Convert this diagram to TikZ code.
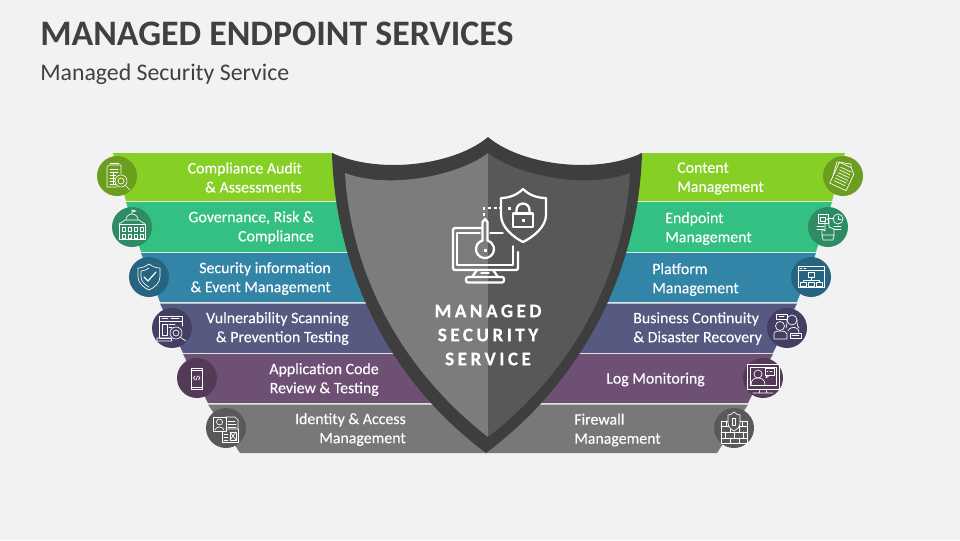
\documentclass[tikz,border=0pt]{standalone}
\usepackage{fontspec}
\setmainfont[FakeBold=0.12]{Carlito}
\newfontfamily\titlefont{Carlito}
\newfontfamily\shieldfont[LetterSpace=18,BoldFeatures={FakeBold=0.4}]{Carlito}
\definecolor{bg}{HTML}{F2F2F2}
\definecolor{titlecol}{HTML}{404040}
\definecolor{bgreen}{HTML}{86D026}\definecolor{cgreen}{HTML}{6B9D1F}
\definecolor{bteal}{HTML}{35C083}\definecolor{cteal}{HTML}{2D8C63}
\definecolor{bblue}{HTML}{3385A8}\definecolor{cblue}{HTML}{266480}
\definecolor{bindigo}{HTML}{565A80}\definecolor{cindigo}{HTML}{433F63}
\definecolor{bplum}{HTML}{6F5075}\definecolor{cplum}{HTML}{533B57}
\definecolor{bgray}{HTML}{787878}\definecolor{cgray}{HTML}{595959}
\definecolor{sdark}{HTML}{3E3E3E}\definecolor{sleft}{HTML}{7C7C7C}\definecolor{sright}{HTML}{585858}
\tikzset{
 lbl/.style={inner sep=0pt,text=white,font=\fontsize{11.9}{14.3}\selectfont},
 lblL/.style={lbl,anchor=east,align=right},
 lblR/.style={lbl,anchor=west,align=left},
 disc/.style={circle,minimum size=30pt,inner sep=0pt,fill=#1},
 ic/.style={draw=white,line width=0.5pt,line join=round,line cap=round},
 main/.style={draw=white,line width=1.7pt,line join=round,line cap=round},
 shieldtxt/.style={inner sep=0pt,text=white,font=\fontsize{14.4}{14}\selectfont\shieldfont\bfseries},
}
\begin{document}
\begin{tikzpicture}[x=0.75pt,y=-0.75pt]
\useasboundingbox (0,0) rectangle (960,540);
\fill[bg] (0,0) rectangle (960,540);
\node[anchor=west,inner sep=0pt,text=titlecol,font=\fontsize{26.9}{28}\selectfont\titlefont\bfseries] (title) at (40,34) {MANAGED ENDPOINT SERVICES};
\node[anchor=west,inner sep=0pt,text=titlecol,font=\fontsize{17.85}{20}\selectfont\titlefont] (subtitle) at (40,74) {Managed Security Service};
% bands
\fill[bgreen] (113,153)--(334,153)--(338,201)--(126,201)--cycle (845,153)--(640,153)--(636,201)--(832,201)--cycle;
\fill[bteal] (126,202)--(340,202)--(350,252)--(141,252)--cycle (832,202)--(635,202)--(625,252)--(816,252)--cycle;
\fill[bblue] (141,253)--(816,253)--(797,302)--(160,302)--cycle;
\fill[bindigo] (160,303.5)--(797,303.5)--(773,353)--(183,353)--cycle;
\fill[bplum] (183,354)--(773,354)--(748,403)--(208,403)--cycle;
\fill[bgray] (208,404.5)--(748,404.5)--(717,453)--(240,453)--cycle;
% shield
\fill[sdark] (488,137) .. controls (455,165) and (380,175) .. (332,153)
  .. controls (335,262) and (382,375) .. (486,453)
  .. controls (590,375) and (639,262) .. (642,153)
  .. controls (596,175) and (521,165) .. (488,137) -- cycle;
\fill[sleft] (488,153) .. controls (460,175) and (390,190) .. (345,173)
  .. controls (350,262) and (392,362) .. (488,437) -- cycle;
\fill[sright] (488,153) .. controls (516,175) and (585,190) .. (630,173)
  .. controls (625,262) and (584,362) .. (488,437) -- cycle;
% main icon
\draw[main,rounded corners=1.5] (482,228)--(453,228)--(453,270)--(518,270)--(518,252);
\draw[main,line width=1.1pt] (480,233)--(457,233)--(457,265)--(513,265)--(513,246);
\draw[main,line width=1.1pt] (490,233)--(503,233);
\draw[main] (477,270)--(472,277) (493,270)--(498,277);
\draw[main,line width=1.1pt] (481,273)--(489,273);
\draw[main,rounded corners=1.5] (466,277) rectangle (504,282.5);
\draw[main] (482.5,240.4)--(482.5,222)--(485,219)--(487.5,222)--(487.5,240.4);
\draw[main] (482.5,240.4) arc[start angle=-106,end angle=-434,x radius=9,y radius=9];
\fill[white] (483.5,248.5) rectangle (486.5,251.5);
\draw[main] (523,189) .. controls (517,195) and (509,198) .. (501,198)
 -- (501,215) .. controls (501,227) and (513,237) .. (523,242)
 .. controls (533,237) and (546,227) .. (546,215) -- (546,198)
 .. controls (537,198) and (529,195) .. (523,189) -- cycle;
\draw[main] (513,213.5) rectangle (533,227);
\draw[main] (516.5,213) -- (516.5,210) arc[start angle=180,end angle=0,x radius=6.5,y radius=-6.5] -- (529.5,213);
\fill[white] (521.5,218.5) rectangle (524.5,221.5);
\draw[white,line width=1.6pt,dash pattern=on 2.2pt off 2.2pt] (484,216)--(484,208)--(504,208);
\fill[white] (508,206.5) rectangle (511,209.5);
% shield text
\node[shieldtxt] (s1) at (488,311) {MANAGED};
\node[shieldtxt] (s2) at (488,335) {SECURITY};
\node[shieldtxt] (s3) at (488,359) {SERVICE};
% labels
\node[lblL] (t1) at (302,177.5) {Compliance Audit\\\& Assessments};
\node[lblL] (t2) at (314,227.5) {Governance, Risk \&\\Compliance};
\node[lblL] (t3) at (331,278.5) {Security information\\\& Event Management};
\node[lblL] (t4) at (349,328.5) {Vulnerability Scanning\\\& Prevention Testing};
\node[lblL] (t5) at (379,379.5) {Application Code\\Review \& Testing};
\node[lblL] (t6) at (406,429.5) {Identity \& Access\\Management};
\node[lblR] (r1) at (677,178.5) {Content\\Management};
\node[lblR] (r2) at (665,228.5) {Endpoint\\Management};
\node[lblR] (r3) at (652,279.5) {Platform\\Management};
\node[lblR] (r4) at (633,328.5) {Business Continuity\\\& Disaster Recovery};
\node[lblR] (r5) at (606,379.5) {Log Monitoring};
\node[lblR] (r6) at (574,430) {Firewall\\Management};
% discs
\node[disc=cgreen] (L1) at (117,176) {};
\node[disc=cteal] (L2) at (132,227) {};
\node[disc=cblue] (L3) at (149,277) {};
\node[disc=cindigo] (L4) at (172,328) {};
\node[disc=cplum] (L5) at (197,378) {};
\node[disc=cgray] (L6) at (226,428) {};
\node[disc=cgreen] (R1) at (843,176) {};
\node[disc=cteal] (R2) at (828,227) {};
\node[disc=cblue] (R3) at (811,277) {};
\node[disc=cindigo] (R4) at (787,328) {};
\node[disc=cplum] (R5) at (763,378) {};
\node[disc=cgray] (R6) at (734,428) {};
% L1 clipboard + magnifier
\begin{scope}[shift={(L1)},ic]
\draw (4,-2)--(4,-11)--(-8,-11)--(-10,-9)--(-10,11)--(0,11);
\draw (-7,-13)--(2,-13);
\draw (-7,-7)--(1,-7) (-7,-4)--(1,-4) (-7,-1)--(-1,-1) (-7,2)--(-2,2) (-7,5)--(-2,5) (-7,8)--(-1,8) (-4,-4)--(-4,8);
\draw (4,5) circle[radius=6];\draw (4,5) circle[radius=3];
\draw (8.5,9.5)--(13,14);
\end{scope}
% L2 building
\begin{scope}[shift={(L2)},ic]
\draw (-13,-3) rectangle (13,12);
\draw (-13,-3)--(-7,-7)--(7,-7)--(13,-3);
\draw (-6,-7) arc[start angle=180,end angle=0,x radius=6,y radius=-6];
\draw (0,-13)--(0,-17)--(4,-16)--(0,-15);
\foreach \x in {-10,-4,2,8}{\draw (\x,0) rectangle (\x+3,4);\draw (\x,7) rectangle (\x+3,11);}
\end{scope}
% L3 shield check
\begin{scope}[shift={(L3)},ic]
\draw (0,-13) .. controls (-4,-10) and (-8,-9) .. (-11,-9) -- (-11,0) .. controls (-11,6) and (-5,11) .. (0,13)
 .. controls (5,11) and (11,6) .. (11,0) -- (11,-9) .. controls (8,-9) and (4,-10) .. (0,-13);
\draw (0,-9) .. controls (-3,-7) and (-5,-6) .. (-8,-6) -- (-8,0) .. controls (-8,4) and (-4,8) .. (0,10);
\draw[line width=0.9pt] (-5,0)--(-1,4)--(7,-5);
\end{scope}
% L4 browser + magnifier
\begin{scope}[shift={(L4)},ic]
\draw (0,10)--(-13,10)--(-13,-12)--(10,-12)--(10,-2);
\draw (-13,-7)--(10,-7);
\draw (-10,-9.5)--(-4,-9.5) (-1,-9.5)--(7,-9.5);
\draw (-10,-4) rectangle (-5,7);
\draw (-3,-4)--(3,-4) (-3,-1)--(0,-1);
\draw (-15,10)--(-1,10)--(0,13)--(-15,13)--cycle;
\draw (4,5) circle[radius=6];\draw (4,5) circle[radius=3];
\draw (8.5,9.5)--(14,13);
\end{scope}
% L5 phone
\begin{scope}[shift={(L5)},ic]
\draw (-6,-10) rectangle (5,11);
\draw (-6,-8)--(5,-8) (-6,9)--(5,9);
\draw (-2,-2)--(-3.5,0)--(-2,2) (1.5,-2)--(3,0)--(1.5,2) (0.5,-2)--(-1,2);
\end{scope}
% L6 identity documents
\begin{scope}[shift={(L6)},ic]
\draw (-13,-11) rectangle (0,3);
\draw (-6.5,-6) circle[radius=3];
\draw (-11,2) .. controls (-10,-2) and (-3,-2) .. (-2,2);
\draw (0,-11)--(9,-11)--(12,-8)--(12,1)--(0,1);
\draw (2,-7)--(9,-7) (2,-4)--(10,-4) (2,-1)--(10,-1);
\draw (-4,3)--(-4,14)--(12,14)--(12,1);
\draw (-2,6)--(2,6) (-2,9)--(2,9) (-2,12)--(2,12);
\draw (4,4) rectangle (10,12);
\draw (4,4)--(10,12) (10,4)--(4,12);
\end{scope}
% R1 papers
\begin{scope}[shift={(R1)},ic]
\draw (-11,3)--(-6,-14)--(8,-12)--(8,-8);
\begin{scope}[rotate=-25]
\draw[fill=cgreen] (-9,-11)--(4,-11)--(9,-6)--(9,12)--(-9,12)--cycle;
\foreach \y in {-7,-4,...,9}{\draw (-6,\y)--(6,\y);}
\end{scope}
\end{scope}
% R2 hand and screens
\begin{scope}[shift={(R2)},ic]
\draw (-10,-13) rectangle (0,-4);
\draw (-8,-10) rectangle (-3,-6);
\draw (0,-9)--(6,-9);
\draw (10,-8) circle[radius=5];\draw (10,-8)--(10,-11) (10,-8)--(13,-8);
\draw (-11,-1)--(-4,-1) (-11,2)--(-4,2) (6,-1)--(13,-1) (6,2)--(13,2);
\draw (-3,4)--(-3,-6) arc[start angle=180,end angle=0,x radius=2,y radius=-2] -- (1,0)--(6,2)--(6,8) (-3,4)--(-6,2)--(-6,8) ;
\draw (-6,8)--(6,8)--(5,13)--(-5,13)--cycle;
\end{scope}
% R3 browser with org chart
\begin{scope}[shift={(R3)},ic]
\draw (-13,-11) rectangle (13,10);
\draw (-13,-7)--(13,-7);
\draw (-11,-9)--(-9,-9) (-7,-9)--(-5,-9);
\draw (-3,-5) rectangle (3,0);
\draw (0,0)--(0,3) (-8,5)--(-8,3)--(8,3)--(8,5);
\draw (-11,5) rectangle (-5,9);\draw (-3,5) rectangle (3,9);\draw (5,5) rectangle (11,9);
\end{scope}
% R4 two people with speech
\begin{scope}[shift={(R4)},ic]
\draw (-11,-14) rectangle (0,-9);\draw (-8,-11.5)--(-3,-11.5);
\draw (-7,-2) circle[radius=4.5];
\draw (-13,11)--(-13,6) .. controls (-13,3) and (-9,3) .. (-7,3) .. controls (-5,3) and (-1,3) .. (0,6)--(0,11)--cycle;
\draw (5,-8) circle[radius=5];
\draw (0,-8) .. controls (0,-2) and (-1,-1) .. (-1,0);
\draw (10,-8) .. controls (10,-2) and (11,-1) .. (12,0);
\draw (1,3) .. controls (2,-1) and (8,-1) .. (9,0) .. controls (11,0) and (12,2) .. (12,5);
\draw (3,5) rectangle (14,10);\draw (5,7.5)--(12,7.5);
\end{scope}
% R5 monitor with person and speech
\begin{scope}[shift={(R5)},ic]
\draw (-16,-14) rectangle (16,11);
\draw (-13,-11) rectangle (13,7);
\draw (-3,11)--(-4,15) (3,11)--(4,15) (-10,15)--(10,15);
\draw (-5,-4) circle[radius=4];
\draw (-12,7) .. controls (-12,1) and (-8,0) .. (-5,0) .. controls (-2,0) and (2,1) .. (2,7);
\draw (2,-10) rectangle (11,-3);
\draw (4,-3)--(3,0)--(7,-3);
\draw (4,-6.5)--(5,-6.5) (7,-6.5)--(9,-6.5);
\end{scope}
% R6 wall with shield
\begin{scope}[shift={(R6)},ic]
\draw (-13,-7) rectangle (13,15);
\foreach \y in {-2,4,10}{\draw (-13,\y)--(13,\y);}
\draw (-8,-2)--(-8,-7) (8,-2)--(8,-7) (-4,4)--(-4,-2) (5,4)--(5,-2) (-9,10)--(-9,4) (0,10)--(0,4) (9,10)--(9,4) (-4,15)--(-4,10) (5,15)--(5,10);
\draw[fill=cgray] (0,-16) .. controls (-2,-14) and (-4,-13) .. (-6,-13) -- (-6,-5) .. controls (-6,-1) and (-3,1) .. (0,3)
 .. controls (3,1) and (6,-1) .. (6,-5) -- (6,-13) .. controls (4,-13) and (2,-14) .. (0,-16);
\draw (-1.5,-10) rectangle (1.5,-3);
\end{scope}
\end{tikzpicture}
\end{document}
